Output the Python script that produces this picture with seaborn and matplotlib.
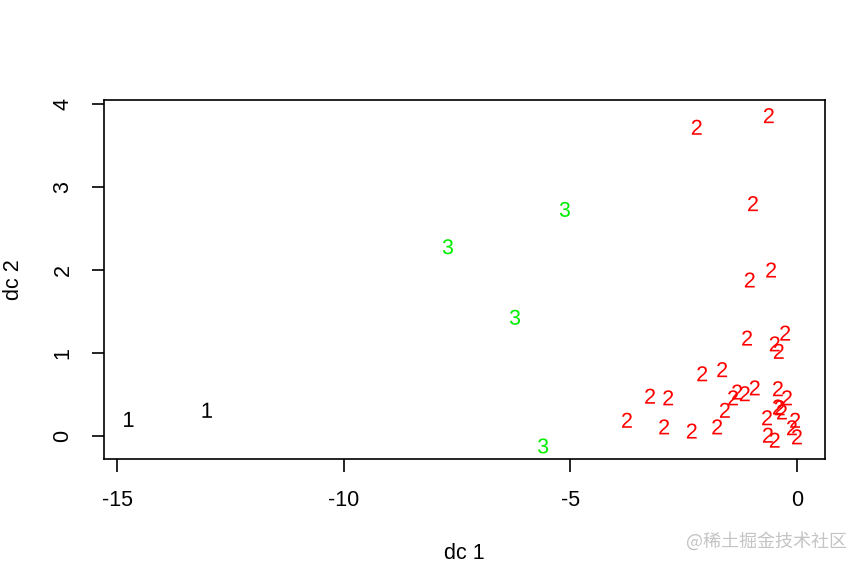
import matplotlib
matplotlib.use("Agg")
import matplotlib.pyplot as plt
import seaborn as sns
import pandas as pd

# discriminant coordinates
grp1_x = [-14.74, -13.01]
grp1_y = [0.20, 0.31]

grp3_x = [-7.70, -5.12, -6.22, -5.60]
grp3_y = [2.28, 2.73, 1.43, -0.12]

grp2_x = [-2.21, -0.62, -0.97, -0.57, -1.04, -0.26, -1.10, -0.49, -0.40,
          -1.65, -2.09, -3.24, -2.84, -3.75, -2.93, -2.32, -1.76,
          -1.59, -1.41, -1.32, -1.15, -0.93, -0.42, -0.22, -0.38, -0.33,
          -0.42, -0.66, -0.64, -0.49, -0.04, 0.00, -0.11]
grp2_y = [3.72, 3.86, 2.80, 2.00, 1.88, 1.24, 1.18, 1.11, 1.02,
          0.80, 0.75, 0.48, 0.46, 0.19, 0.11, 0.06, 0.11,
          0.31, 0.46, 0.53, 0.51, 0.58, 0.57, 0.46, 0.34, 0.29,
          0.35, 0.22, 0.01, -0.05, 0.19, -0.01, 0.10]

x_ticks = [-15, -10, -5, 0]
y_ticks = [0, 1, 2, 3, 4]

df = pd.DataFrame({
    "dc1": grp1_x + grp2_x + grp3_x,
    "dc2": grp1_y + grp2_y + grp3_y,
    "cluster": ["1"] * len(grp1_x) + ["2"] * len(grp2_x) + ["3"] * len(grp3_x),
})

sns.set_style("ticks")
plt.rcParams["font.family"] = ["Liberation Sans", "DejaVu Sans"]
plt.rcParams["mathtext.default"] = "regular"

fig = plt.figure(figsize=(8.64, 5.68), dpi=100)
ax = fig.add_axes([104 / 864, 1 - 459 / 568, 721 / 864, 359 / 568])

pal = {"1": "black", "2": "#ff0000", "3": "#00ee00"}
marks = {"1": "$1$", "2": "$2$", "3": "$3$"}
sns.scatterplot(data=df, x="dc1", y="dc2", hue="cluster", style="cluster",
                palette=pal, markers=marks, s=118, linewidth=0,
                legend=False, ax=ax)

ax.set_xlim(-15.287, 0.619)
ax.set_ylim(-0.277, 4.048)
ax.set_xticks(x_ticks)
ax.set_yticks(y_ticks)
ax.set_xticklabels([str(v) for v in x_ticks])
ax.set_yticklabels([str(v) for v in y_ticks], rotation=90, va="center")
ax.tick_params(direction="out", length=9, width=1.2, labelsize=15.5,
               pad=13, colors="black")
for sp in ax.spines.values():
    sp.set_linewidth(1.2)
    sp.set_color("black")

ax.set_xlabel("dc 1", fontsize=15.5, color="black")
ax.set_ylabel("dc 2", fontsize=15.5, color="black")
ax.xaxis.set_label_coords(0.5, -0.233)
ax.yaxis.set_label_coords(-0.111, 0.5)

fig.text(847 / 864, 1 - 541 / 568, "@稀土掘金技术社区", ha="right", va="center",
         fontsize=13, color="#c4c4c4", family=["Noto Sans CJK SC", "DejaVu Sans"])

fig.savefig("out.png", dpi=100)
